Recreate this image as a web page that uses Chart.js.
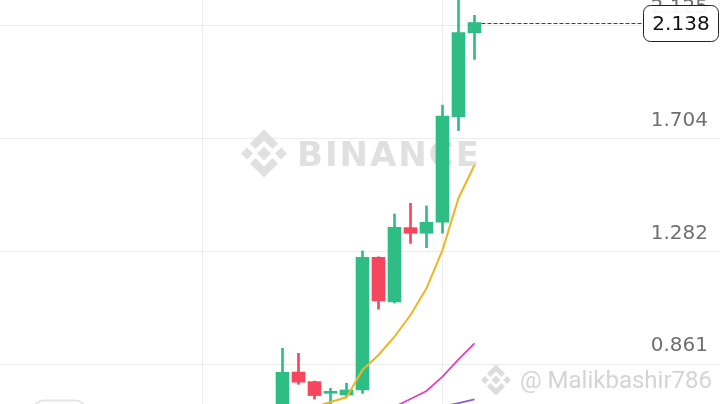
<!DOCTYPE html>
<html>
<head>
<meta charset="utf-8">
<title>Candles</title>
<script src="https://cdn.jsdelivr.net/npm/chart.js@4.4.1/dist/chart.umd.min.js"></script>
<style>
  html, body { margin: 0; padding: 0; background: #ffffff; }
  canvas { display: block; }
</style>
</head>
<body>
<canvas id="priceChart" width="720" height="404"></canvas>
<script>
// candle 0 is the first candle visible on screen
const candles = [0, 1, 2, 3, 4, 5, 6, 7, 8, 9, 10, 11, 12];
const opens  = [0.700, 0.831, 0.795, 0.7514, 0.745, 0.764, 1.260, 1.093, 1.371, 1.350, 1.391, 1.786, 2.100];
const highs  = [0.920, 0.901, 0.797, 0.770, 0.789, 1.284, 1.262, 1.422, 1.462, 1.452, 1.829, 2.260, 2.165];
const lows   = [0.690, 0.785, 0.730, 0.700, 0.738, 0.751, 1.066, 1.089, 1.312, 1.296, 1.350, 1.734, 2.000];
const closes = [0.830, 0.793, 0.743, 0.753, 0.764, 1.260, 1.097, 1.372, 1.350, 1.391, 1.788, 2.100, 2.138];

// moving averages (null = not on screen)
const ma7  = [null, null, 0.700, 0.719, 0.7365, 0.8386, 0.8947, 0.963, 1.044, 1.144, 1.287, 1.481, 1.605];
const ma25 = [null, null, null, null, null, null, null, 0.701, 0.730, 0.760, 0.8135, 0.8786, 0.9384];
const ma99 = [null, null, null, null, null, null, null, null, null, null, 0.702, 0.715, 0.729];

const priceTicks = [0.861, 1.282, 1.704, 2.125];
const timeGrid = [-5, 10];
const lastPrice = 2.138;

const UP = '#2ebd85';
const DOWN = '#f6465d';
const candleColors = candles.map(i => (closes[i] >= opens[i] ? UP : DOWN));

function toPoints(values) {
    return candles.map(i => ({ x: i, y: values[i] }));
}

// Binance mark, unit size: outer half-width 24
function drawLogo(ctx, cx, cy, s, color) {
    const shapes = [
        [[0, -7], [7, 0], [0, 7], [-7, 0]],
        [[-17, -6], [-11, 0], [-17, 6], [-23, 0]],
        [[17, -6], [23, 0], [17, 6], [11, 0]],
        [[0, -24], [14, -10], [8.5, -4.5], [0, -13], [-8.5, -4.5], [-14, -10]],
        [[0, 24], [14, 10], [8.5, 4.5], [0, 13], [-8.5, 4.5], [-14, 10]],
    ];
    ctx.fillStyle = color;
    shapes.forEach(pts => {
        ctx.beginPath();
        pts.forEach(([px, py], k) => {
            const X = cx + px * s, Y = cy + py * s;
            if (k === 0) ctx.moveTo(X, Y); else ctx.lineTo(X, Y);
        });
        ctx.closePath();
        ctx.fill();
    });
}

const overlays = {
    id: 'overlays',
    beforeDatasetsDraw(chart) {
        const ctx = chart.ctx;
        ctx.save();
        drawLogo(ctx, 264, 153.5, 1, '#e0e0e0');
        ctx.font = 'bold 34px "DejaVu Sans"';
        ctx.letterSpacing = '2px';
        ctx.fillStyle = '#e0e0e0';
        ctx.textAlign = 'left';
        ctx.textBaseline = 'alphabetic';
        ctx.fillText('BINANCE', 297, 165.5);
        ctx.restore();
    },
    afterDraw(chart) {
        const ctx = chart.ctx;
        const xs = chart.scales.x, ys = chart.scales.y;
        const py = Math.round(ys.getPixelForValue(lastPrice)) + 0.5;
        const startX = xs.getPixelForValue(candles[candles.length - 1]) + 7;

        ctx.save();
        // current price line
        ctx.strokeStyle = '#444444';
        ctx.lineWidth = 1;
        ctx.setLineDash([4, 2]);
        ctx.beginPath();
        ctx.moveTo(startX, py);
        ctx.lineTo(643, py);
        ctx.stroke();
        ctx.setLineDash([]);

        // price tag
        ctx.beginPath();
        ctx.roundRect(643.5, py - 18, 75, 36, 7);
        ctx.fillStyle = 'rgba(255,255,255,0.93)';
        ctx.fill();
        ctx.strokeStyle = '#222222';
        ctx.stroke();
        ctx.fillStyle = '#111111';
        ctx.font = '20px "DejaVu Sans"';
        ctx.textAlign = 'center';
        ctx.textBaseline = 'middle';
        ctx.fillText(lastPrice.toFixed(3), 681, py + 1);

        // author watermark
        drawLogo(ctx, 496, 380, 0.65, '#dcdcdc');
        ctx.font = '24px Roboto';
        ctx.textAlign = 'right';
        ctx.textBaseline = 'alphabetic';
        ctx.fillStyle = '#d4d4d4';
        ctx.fillText('@ Malikbashir786', 712, 388);

        // button edge at the bottom left
        ctx.beginPath();
        ctx.roundRect(34, 400.5, 51, 22, 9);
        ctx.strokeStyle = '#e6e6e6';
        ctx.lineWidth = 2;
        ctx.stroke();
        ctx.restore();
    },
};

new Chart(document.getElementById('priceChart'), {
    type: 'bar',
    data: {
        datasets: [
            {
                type: 'line',
                label: 'MA7',
                data: toPoints(ma7),
                borderColor: '#ecb622',
                borderWidth: 2,
                pointRadius: 0,
                tension: 0,
                order: 0,
            },
            {
                type: 'line',
                label: 'MA25',
                data: toPoints(ma25),
                borderColor: '#de43bd',
                borderWidth: 1.8,
                pointRadius: 0,
                tension: 0,
                order: 0,
            },
            {
                type: 'line',
                label: 'MA99',
                data: toPoints(ma99),
                borderColor: '#8f5fc6',
                borderWidth: 1.8,
                pointRadius: 0,
                tension: 0,
                order: 0,
            },
            {
                label: 'Body',
                data: candles.map(i => ({ x: i, y: [opens[i], closes[i]] })),
                backgroundColor: candleColors,
                barThickness: 13,
                minBarLength: 2,
                grouped: false,
                borderWidth: 0,
                order: 1,
            },
            {
                label: 'Wick',
                data: candles.map(i => ({ x: i, y: [lows[i], highs[i]] })),
                backgroundColor: candleColors,
                barThickness: 2,
                grouped: false,
                borderWidth: 0,
                order: 2,
            },
        ],
    },
    options: {
        responsive: false,
        animation: false,
        layout: { padding: 0 },
        plugins: {
            legend: { display: false },
            tooltip: { enabled: false },
        },
        scales: {
            x: {
                type: 'linear',
                min: -17.656,
                max: 27.344,
                offset: false,
                afterBuildTicks: scale => { scale.ticks = timeGrid.map(v => ({ value: v })); },
                ticks: { display: false },
                grid: { color: '#ececec', drawTicks: false, offset: false },
                border: { display: false },
            },
            y: {
                position: 'right',
                min: 0.71142,
                max: 2.22223,
                afterBuildTicks: scale => { scale.ticks = priceTicks.map(v => ({ value: v })); },
                ticks: {
                    mirror: true,
                    padding: -12,
                    labelOffset: -18,
                    color: '#707070',
                    font: { family: 'DejaVu Sans', size: 20 },
                    callback: v => Number(v).toFixed(3),
                },
                grid: { color: '#ececec', drawTicks: false },
                border: { display: false },
            },
        },
    },
    plugins: [overlays],
});
</script>
</body>
</html>
